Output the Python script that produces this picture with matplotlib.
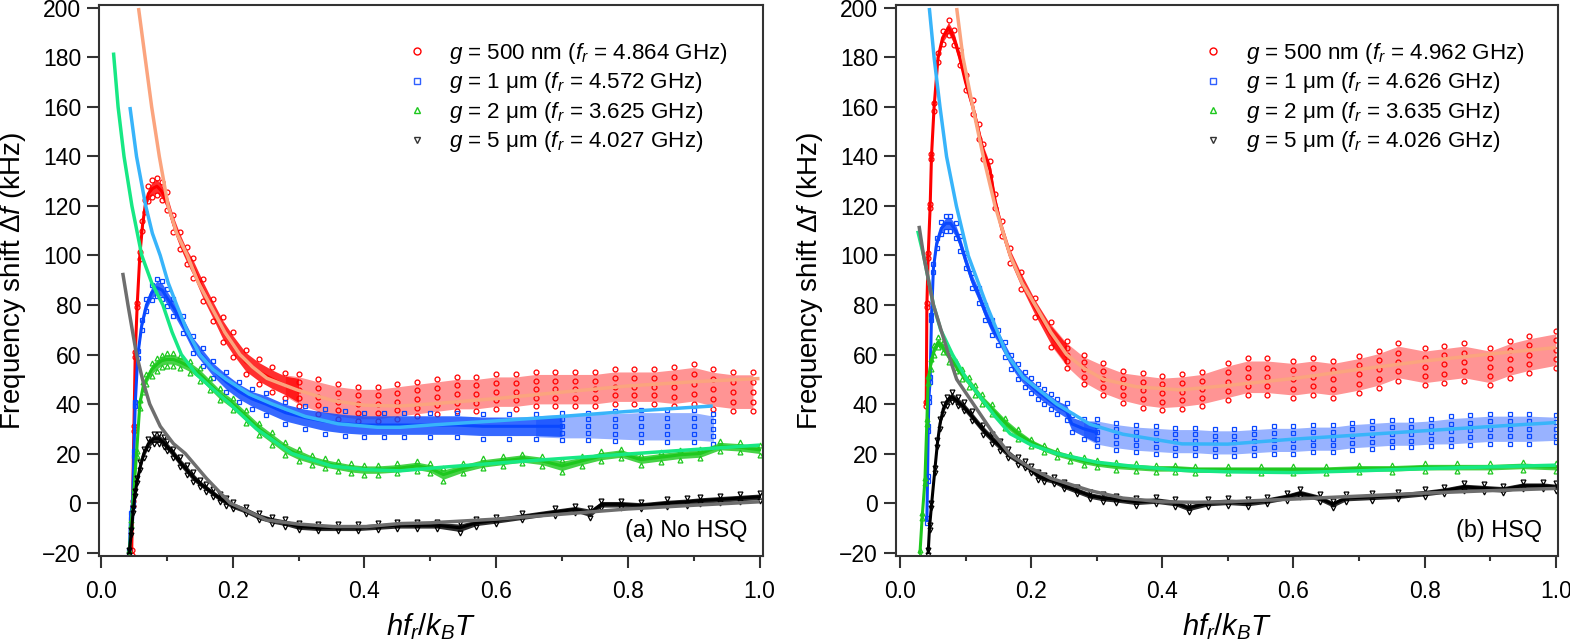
import matplotlib
matplotlib.use("Agg")
import matplotlib.pyplot as plt
import numpy as np
from matplotlib.lines import Line2D

plt.rcParams['font.family'] = ['Liberation Sans', 'DejaVu Sans']
plt.rcParams['mathtext.fontset'] = 'custom'
plt.rcParams['mathtext.rm'] = 'Liberation Sans'
plt.rcParams['mathtext.it'] = 'Liberation Sans:italic'
plt.rcParams['mathtext.bf'] = 'Liberation Sans:bold'

# ---------------- Panel (a) No HSQ : measured data ----------------
a_red_x = [0.0466, 0.048, 0.050, 0.052, 0.055, 0.059, 0.063, 0.067, 0.072, 0.078, 0.085, 0.092, 0.100,
           0.110, 0.120, 0.130, 0.140, 0.155, 0.170, 0.185, 0.200, 0.220, 0.240, 0.260, 0.280, 0.300,
           0.330, 0.360, 0.390, 0.420, 0.450, 0.480, 0.510, 0.540, 0.570, 0.600, 0.630, 0.660, 0.690,
           0.720, 0.750, 0.780, 0.810, 0.840, 0.870, 0.900, 0.930, 0.960, 0.990]
a_red_y = [-20, 0, 30, 60, 80, 100, 112, 120, 125, 127, 128, 126, 122,
           113, 106, 100, 95, 86, 78, 70, 64, 57, 53, 50, 47.5, 45.5,
           43, 41, 40, 40, 41, 42, 43, 44, 44, 45, 45, 46, 46,
           46, 46, 47, 47, 47, 47, 48, 46, 45, 45]
a_red_w = [1, 1, 1, 1, 1, 1.5, 2, 2.5, 3, 3.5, 3.5, 3.5, 3.5,
           3.5, 3.5, 3.5, 4, 4.5, 4.5, 5, 5, 5, 5, 5, 5, 6.5,
           7, 7, 7, 7, 7, 7, 7, 7, 7, 7, 7, 7, 7,
           7, 7, 7, 7, 7, 8, 8, 8, 8, 8]

a_blue_x = [0.043, 0.045, 0.048, 0.050, 0.052, 0.056, 0.062, 0.069, 0.077, 0.085, 0.093, 0.100, 0.110,
            0.125, 0.140, 0.155, 0.170, 0.190, 0.210, 0.230, 0.250, 0.280, 0.310, 0.340, 0.370, 0.400,
            0.430, 0.460, 0.500, 0.540, 0.580, 0.620, 0.660, 0.700, 0.740, 0.780, 0.820, 0.860, 0.900, 0.930]
a_blue_y = [-20, -5, 0, 20, 40, 60, 72, 80, 85, 87, 86, 83, 79,
            72, 64, 59, 54, 49, 45, 42, 40, 36.5, 34.5, 33, 32, 31.5,
            31.5, 31.5, 31.5, 31.5, 31, 31, 31, 31, 31, 31, 31, 31, 31, 30]
a_blue_w = [1, 1, 1, 1, 1, 1.5, 2, 2.5, 3, 3.5, 3.5, 3.5, 3.5,
            3.5, 3.5, 3.5, 3.5, 4, 4, 4, 4.5, 4.5, 4.5, 5, 5, 5,
            5, 5, 5, 5, 5, 5, 5, 5.5, 5.5, 6, 6.5, 6.5, 6.5, 6]

a_green_x = [0.043, 0.046, 0.050, 0.054, 0.059, 0.064, 0.069, 0.077, 0.085, 0.092, 0.100, 0.110, 0.120,
             0.135, 0.150, 0.165, 0.180, 0.200, 0.220, 0.240, 0.260, 0.280, 0.300, 0.320, 0.340, 0.360,
             0.380, 0.400, 0.420, 0.450, 0.480, 0.500, 0.520, 0.550, 0.580, 0.610, 0.640, 0.670, 0.700,
             0.730, 0.760, 0.790, 0.820, 0.850, 0.880, 0.910, 0.940, 0.970, 1.000]
a_green_y = [-20, -8, 5, 20, 40, 47, 50, 54, 56, 57.5, 58, 58, 57,
             55, 52, 48, 44, 40, 35, 30, 26, 22, 19.5, 17.5, 16, 15,
             14, 13.5, 13.5, 14, 15, 14, 11.5, 14, 16, 17, 18, 17, 15,
             17, 19, 20, 17.5, 18.5, 19.5, 20, 23, 22.5, 21.5]
a_green_w = [1, 1, 1, 1, 1.5, 2, 2, 2.5, 2.5, 2.5, 2.5, 2.5, 2.5,
             2.5, 2.5, 2.5, 2.5, 2.5, 2.5, 2.5, 2.5, 2.5, 2.5, 2, 2, 2,
             2, 2, 2, 2, 2, 2, 2.5, 2, 2, 2, 2, 2, 2.5,
             2, 2, 2, 2, 2, 2, 2, 2, 2, 2]

a_black_x = [0.043, 0.046, 0.049, 0.052, 0.055, 0.060, 0.065, 0.072, 0.080, 0.088, 0.095, 0.100, 0.110,
             0.120, 0.130, 0.140, 0.150, 0.160, 0.170, 0.180, 0.190, 0.200, 0.220, 0.240, 0.260, 0.280,
             0.300, 0.330, 0.360, 0.390, 0.420, 0.450, 0.480, 0.510, 0.545, 0.570, 0.600, 0.640, 0.690,
             0.720, 0.743, 0.760, 0.790, 0.820, 0.860, 0.890, 0.910, 0.940, 0.970, 1.000]
a_black_y = [-20, -12, -3, 4, 9, 15, 20, 24, 26, 26, 24.5, 23, 20,
             16.5, 13.5, 10.5, 8, 6, 4, 2, 0.5, -1, -3, -5.5, -7, -8,
             -9.5, -10, -10, -10, -9.5, -9, -9, -9, -10, -8, -7, -5.5, -3.6,
             -2.5, -4, -0.5, -0.5, -1, 0, 0.5, 1, 1.5, 2, 2.5]
a_black_w = [1, 1, 1, 1, 1, 1.5, 2, 2, 2, 2, 2, 2, 2,
             2, 2, 2, 1.5, 1.5, 1.5, 1.5, 1.5, 1.5, 1.5, 1.5, 1.5, 1.5,
             1.5, 1.5, 1.5, 1.5, 1.5, 1.5, 1.5, 1.5, 2, 1.5, 1.5, 1.5, 1.5,
             1.5, 2, 1.5, 1.5, 1.5, 1.5, 1.5, 1.5, 1.5, 1.5, 1.5]

# ---------------- Panel (a) fits ----------------
a_red_fit_x = [0.057, 0.067, 0.077, 0.0886, 0.102, 0.115, 0.131, 0.148, 0.166, 0.188, 0.211, 0.23, 0.252,
               0.28, 0.30, 0.353, 0.40, 0.454, 0.50, 0.60, 0.70, 0.80, 0.90, 1.00]
a_red_fit_y = [200, 180, 160, 140, 120, 109, 100, 89, 80, 69, 60, 55, 50.4,
               47.5, 45.5, 41.3, 39.5, 39.2, 40, 42.2, 44.8, 47.3, 49, 50.3]
a_blue_fit_x = [0.044, 0.054, 0.068, 0.078, 0.090, 0.102, 0.115, 0.130, 0.150, 0.170, 0.190, 0.225, 0.260,
                0.310, 0.360, 0.420, 0.454, 0.500, 0.600, 0.700, 0.800, 0.929]
a_blue_fit_y = [160, 140, 120, 109, 100, 89, 80, 70, 60, 54, 50, 44, 40,
                35, 32, 30.6, 30.6, 31.5, 33.2, 35, 37, 39.2]
a_green_fit_x = [0.019, 0.026, 0.035, 0.047, 0.062, 0.077, 0.094, 0.108, 0.122, 0.145, 0.170, 0.196, 0.236,
                 0.290, 0.350, 0.400, 0.454, 0.520, 0.600, 0.700, 0.800, 0.900, 1.000]
a_green_fit_y = [182, 160, 140, 120, 100, 89, 80, 69, 60, 52, 46, 40, 30,
                 20, 15, 13.5, 13, 14.5, 16.1, 18, 19.8, 21.6, 23.4]
a_gray_fit_x = [0.033, 0.041, 0.054, 0.064, 0.074, 0.090, 0.110, 0.128, 0.160, 0.196, 0.252, 0.300, 0.353,
                0.403, 0.454, 0.500, 0.600, 0.700, 0.800, 0.900, 1.000]
a_gray_fit_y = [93, 80, 60, 49, 40, 31, 24, 20, 10, 0, -6.9, -8.5, -9.5,
                -9.5, -8.3, -8, -6.5, -4.5, -2.4, -0.9, 0.5]

# ---------------- Panel (b) HSQ : measured data ----------------
b_red_x = [0.040, 0.041, 0.043, 0.046, 0.048, 0.052, 0.058, 0.065, 0.074, 0.082, 0.091, 0.100, 0.111,
           0.120, 0.127, 0.137, 0.145, 0.155, 0.168, 0.185, 0.206, 0.230, 0.254, 0.280, 0.310, 0.340,
           0.370, 0.400, 0.430, 0.460, 0.500, 0.530, 0.560, 0.600, 0.630, 0.660, 0.700, 0.730, 0.760,
           0.800, 0.830, 0.860, 0.900, 0.930, 0.960, 1.000]
b_red_y = [40, 80, 100, 120, 140, 160, 180, 188, 192, 188, 180, 170, 160,
           150, 142, 135, 122, 111, 100, 90, 79, 68, 60, 54, 50, 47,
           45.5, 44.5, 45, 46, 49, 51, 51, 50, 51, 50, 52, 54, 57,
           55, 56, 57, 55, 58, 60, 62]
b_red_w = [1, 1, 1, 1, 1, 1.5, 2, 2.5, 3, 3, 3, 3, 3,
           3, 3, 3, 3, 3, 3, 3.5, 4, 5, 5.5, 6, 6.5, 6.5,
           7, 7, 7, 7, 7.5, 7.5, 7.5, 7.5, 7.5, 7.5, 7.5, 7.5, 7.5,
           7.5, 7.5, 7.5, 7.5, 7.5, 7.5, 7.5]

b_blue_x = [0.041, 0.042, 0.043, 0.044, 0.046, 0.048, 0.051, 0.056, 0.063, 0.070, 0.077, 0.085, 0.092,
            0.100, 0.110, 0.120, 0.130, 0.140, 0.150, 0.160, 0.170, 0.180, 0.190, 0.200, 0.210, 0.220,
            0.230, 0.240, 0.254, 0.262, 0.280, 0.300, 0.330, 0.360, 0.390, 0.420, 0.450, 0.480, 0.510,
            0.540, 0.570, 0.600, 0.630, 0.660, 0.690, 0.720, 0.750, 0.780, 0.810, 0.840, 0.870, 0.900,
            0.930, 0.960, 1.000]
b_blue_y = [-7, 10, 30, 42, 50, 75, 95, 105, 111, 113, 113, 110, 105,
            98, 90, 84, 77, 71, 67, 62, 57, 53, 50, 47.5, 45, 43,
            41, 39, 37, 32, 30, 28.5, 27, 26, 25.5, 25, 25, 24.5, 24.5,
            25, 25.5, 25.5, 26, 26, 27, 27.5, 28, 28, 28.5, 29, 29.5, 30,
            30, 30, 30]
b_blue_w = [1, 1, 1, 1, 1, 1, 1.5, 2, 2.5, 3, 3, 3, 3,
            3, 3, 3, 3, 3, 3, 3, 3, 3, 3, 3, 3, 3,
            3, 3, 3.5, 3.5, 4, 5.5, 5.5, 5.5, 5.5, 5.5, 5.5, 5.5, 5.5,
            5.5, 5.5, 5.5, 5.5, 5.5, 5.5, 5.5, 5.5, 5.5, 5.5, 6, 6, 6,
            6, 6, 5.5]

b_green_x = [0.0305, 0.034, 0.038, 0.041, 0.043, 0.047, 0.052, 0.058, 0.065, 0.075, 0.085, 0.095, 0.105,
             0.115, 0.125, 0.140, 0.160, 0.180, 0.200, 0.220, 0.240, 0.260, 0.280, 0.300, 0.330, 0.360,
             0.390, 0.420, 0.450, 0.500, 0.550, 0.600, 0.650, 0.700, 0.750, 0.800, 0.850, 0.900, 0.950,
             1.000]
b_green_y = [-20, -5, 9, 33, 50, 56, 62, 65, 63, 59, 55.5, 52, 49,
             45.5, 42, 38, 32.5, 28, 24.5, 22, 20, 18.5, 17, 16, 15, 14.5,
             14, 14, 13.5, 13.5, 13.5, 13.5, 13.5, 14, 14, 14.5, 14.5, 14.5, 15,
             14.5]
b_green_w = [1, 1, 1, 1, 1.5, 2, 2, 2, 2, 2, 2, 2, 2,
             2, 2, 2, 2, 2, 1.5, 1.5, 1.5, 1.5, 1.5, 1.5, 1.5, 1.5,
             1.5, 1.5, 1.5, 1.5, 1.5, 1.5, 1.5, 1.5, 1.5, 1.5, 1.5, 1.5, 1.5,
             1.5]

b_black_x = [0.043, 0.045, 0.048, 0.053, 0.057, 0.061, 0.066, 0.071, 0.079, 0.088, 0.097, 0.110, 0.127,
             0.140, 0.1525, 0.165, 0.180, 0.190, 0.200, 0.210, 0.220, 0.235, 0.250, 0.270, 0.290, 0.310,
             0.330, 0.360, 0.390, 0.420, 0.440, 0.470, 0.500, 0.530, 0.560, 0.590, 0.610, 0.640, 0.660,
             0.680, 0.720, 0.760, 0.800, 0.830, 0.860, 0.890, 0.920, 0.950, 0.980, 1.000]
b_black_y = [-20, -10, -1, 13, 24, 32, 38, 41, 43, 41, 39, 35, 29.5,
             26, 23, 20, 17, 15.5, 13.5, 11, 10, 9, 7, 5, 3, 2,
             1.5, 0.5, 1, 0, -2, 0, 0.5, 0, 1, 2.5, 4, 2, -0.5,
             2, 2.5, 3, 4, 5, 6.5, 6, 5.5, 7, 7, 6.5]
b_black_w = [1, 1, 1, 1, 1.5, 2, 2, 2, 2, 2, 2, 2, 2,
             2, 2, 2, 1.5, 1.5, 1.5, 1.5, 1.5, 1.5, 1.5, 1.5, 1.5, 1.5,
             1.5, 1.5, 1.5, 1.5, 1.5, 1.5, 1.5, 1.5, 1.5, 1.5, 1.5, 1.5, 1.5,
             1.5, 1.5, 1.5, 1.5, 1.5, 1.5, 1.5, 1.5, 1.5, 1.5, 1.5]

# ---------------- Panel (b) fits ----------------
b_red_fit_x = [0.0864, 0.096, 0.111, 0.127, 0.145, 0.168, 0.186, 0.206, 0.230, 0.254, 0.280, 0.310, 0.360,
               0.427, 0.500, 0.600, 0.700, 0.800, 0.900, 1.000]
b_red_fit_y = [200, 180, 160, 140, 120, 100, 89, 80, 69, 60, 54.5, 50, 47,
               45.7, 47.5, 50.3, 54, 57.4, 60.2, 62.8]
b_blue_fit_x = [0.0447, 0.052, 0.061, 0.071, 0.086, 0.104, 0.132, 0.163, 0.188, 0.239, 0.290, 0.340, 0.430,
                0.500, 0.600, 0.700, 0.800, 0.900, 1.000]
b_blue_fit_y = [200, 180, 160, 140, 120, 100, 80, 60, 50.7, 40, 31.8, 27.8, 23.9,
                23.8, 25.8, 27.5, 29.2, 30.9, 32.5]
b_green_fit_x = [0.027, 0.036, 0.051, 0.062, 0.080, 0.1017, 0.122, 0.145, 0.168, 0.200, 0.239, 0.300, 0.350,
                 0.430, 0.500, 0.600, 0.700, 0.800, 0.900, 1.000]
b_green_fit_y = [110, 100, 80, 70, 60, 50, 43, 35, 28, 23.5, 20, 16.5, 15,
                 13.2, 12.6, 12.3, 13, 13.9, 14.6, 15.3]
b_gray_fit_x = [0.029, 0.036, 0.051, 0.074, 0.0864, 0.117, 0.140, 0.168, 0.200, 0.230, 0.290, 0.340, 0.400,
                0.450, 0.500, 0.600, 0.700, 0.800, 0.900, 1.000]
b_gray_fit_y = [112, 100, 80, 60, 50, 38, 29, 19.5, 14, 10, 5, 2, 0.5,
                0.3, 0.5, 1.6, 2.8, 4, 5, 5.9]

labels_a = [r"$g$ = 500 nm ($f_r$ = 4.864 GHz)", r"$g$ = 1 μm ($f_r$ = 4.572 GHz)",
            r"$g$ = 2 μm ($f_r$ = 3.625 GHz)", r"$g$ = 5 μm ($f_r$ = 4.027 GHz)"]
labels_b = [r"$g$ = 500 nm ($f_r$ = 4.962 GHz)", r"$g$ = 1 μm ($f_r$ = 4.626 GHz)",
            r"$g$ = 2 μm ($f_r$ = 3.635 GHz)", r"$g$ = 5 μm ($f_r$ = 4.026 GHz)"]

data_colors = ['#FF0000', '#0A48FF', '#1EC81E', '#000000']
fit_colors = ['#FBA47E', '#38B4FA', '#17E884', '#6E6E6E']
markers = ['o', 's', '^', 'v']
legend_mec = ['#FF0000', '#3060FF', '#1EC81E', '#333333']
NOISY = 5.2  # half-width (kHz) above which the measured scatter is sparse

fig = plt.figure(figsize=(15.7, 6.39), dpi=100)
ax_a = fig.add_axes([99/1570, 83/639, 664/1570, 551/639])
ax_b = fig.add_axes([896/1570, 83/639, 662/1570, 551/639])


def draw_series(ax, x, y, w, color, marker):
    x = np.asarray(x, float); y = np.asarray(y, float); w = np.asarray(w, float)
    dense = w <= NOISY
    dense_ext = dense | np.r_[dense[1:], False] | np.r_[False, dense[:-1]]
    sparse = ~dense
    sparse_ext = sparse | np.r_[sparse[1:], False] | np.r_[False, sparse[:-1]]
    ax.fill_between(x, y - 0.75 * w, y + 0.75 * w, where=dense_ext, color=color, alpha=0.82,
                    lw=0, zorder=2)
    ax.fill_between(x, y - 0.85 * w, y + 0.85 * w, where=sparse_ext, color=color, alpha=0.42,
                    lw=0, zorder=2)
    ax.plot(x, np.where(dense_ext, y, np.nan), color=color, lw=2.2, zorder=2)
    ms = 3.5
    for f in (1.0, -1.0):
        ax.plot(x, y + f * w, ls='none', marker=marker, ms=ms, mfc='none', mec=color,
                mew=0.9, zorder=2)
    xs, ys, ws = x[sparse], y[sparse], w[sparse]
    for f in (0.5, 0.0, -0.5):
        ax.plot(xs, ys + f * ws, ls='none', marker=marker, ms=ms, mfc='none', mec=color,
                mew=0.9, zorder=2)


panels = [
    (ax_a, [(a_red_x, a_red_y, a_red_w), (a_blue_x, a_blue_y, a_blue_w),
            (a_green_x, a_green_y, a_green_w), (a_black_x, a_black_y, a_black_w)],
     [(a_red_fit_x, a_red_fit_y), (a_blue_fit_x, a_blue_fit_y),
      (a_green_fit_x, a_green_fit_y), (a_gray_fit_x, a_gray_fit_y)],
     labels_a, "(a) No HSQ", (-0.003, 1.0053), 664),
    (ax_b, [(b_red_x, b_red_y, b_red_w), (b_blue_x, b_blue_y, b_blue_w),
            (b_green_x, b_green_y, b_green_w), (b_black_x, b_black_y, b_black_w)],
     [(b_red_fit_x, b_red_fit_y), (b_blue_fit_x, b_blue_fit_y),
      (b_green_fit_x, b_green_fit_y), (b_gray_fit_x, b_gray_fit_y)],
     labels_b, "(b) HSQ", (-0.0061, 1.0035), 662),
]

for ax, series, fits, labels, tag, xl, wpx in panels:
    for (x, y, w), c, m in zip(series, data_colors, markers):
        draw_series(ax, x, y, w, c, m)
    for (fx, fy), c in zip(fits, fit_colors):
        ax.plot(fx, fy, color=c, lw=2.5, zorder=3, solid_capstyle='butt')
    ax.set_xlim(*xl)
    ax.set_ylim(-21.4, 201.2)
    ax.set_xticks([0.0, 0.2, 0.4, 0.6, 0.8, 1.0])
    ax.set_xticklabels(['0.0', '0.2', '0.4', '0.6', '0.8', '1.0'])
    ax.set_xticks(np.arange(0.1, 1.0, 0.2), minor=True)
    ax.set_yticks(np.arange(-20, 201, 20))
    ax.tick_params(axis='both', which='major', direction='out', length=8.6, width=1.5,
                   color='#333333', labelsize=16.5)
    ax.tick_params(axis='y', which='major', pad=4.3)
    ax.tick_params(axis='x', which='major', pad=9)
    ax.tick_params(axis='x', which='minor', direction='out', length=3.8, width=1.5, color='#333333')
    for s in ax.spines.values():
        s.set_linewidth(1.5)
        s.set_color('#333333')
    ax.set_xlabel(r"$hf_r/k_BT$", fontsize=21)
    ax.xaxis.set_label_coords(0.5, -0.1)
    ax.set_ylabel(r"Frequency shift $\Delta f$ (kHz)", fontsize=20)
    ax.yaxis.set_label_coords(-71 / wpx, 0.5)
    handles = [Line2D([], [], ls='none', marker=m, ms=5, mfc='none', mec=c, mew=1.0)
               for m, c in zip(markers, legend_mec)]
    ax.legend(handles, labels, loc='upper left', bbox_to_anchor=(0.452, 0.951), frameon=False,
              fontsize=16.1, handlelength=0.8, handletextpad=1.05, labelspacing=0.2, borderaxespad=0)
    ax.text(0.976, 0.047, tag, transform=ax.transAxes, ha='right', va='center', fontsize=16.8)

fig.savefig('out.png', dpi=100)
